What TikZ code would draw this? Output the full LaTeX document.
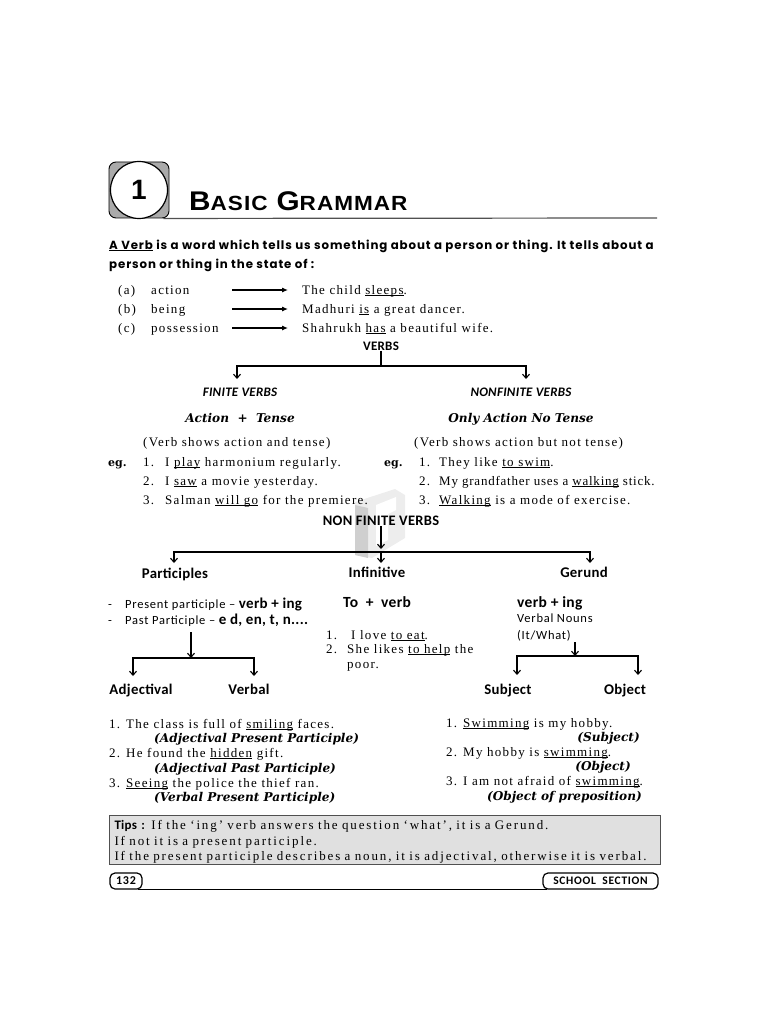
\documentclass[tikz,border=0pt]{standalone}
\usepackage{fontspec}
\usetikzlibrary{arrows.meta, positioning}
\setmainfont{Liberation Serif}
\newfontfamily\bodyfont[LetterSpace=10]{Liberation Serif}
\newfontfamily\tightfont[LetterSpace=6]{Liberation Serif}
\newfontfamily\tipfont[LetterSpace=14.5]{Liberation Serif}
\newfontfamily\emfont{DejaVu Serif}
\newfontfamily\leadfont[LetterSpace=7.6]{Poppins}
\newfontfamily\labelfont[LetterSpace=2]{Carlito}
\newfontfamily\smallfont[LetterSpace=6]{Carlito}
\newfontfamily\headfont{Liberation Sans}
\newfontfamily\titlefont[LetterSpace=5,FakeStretch=1.1]{Liberation Sans}
\definecolor{boxgray}{RGB}{224,224,224}
\definecolor{numgray}{RGB}{170,170,170}
\definecolor{rulegray}{RGB}{80,80,80}
\newcommand\ul[1]{\underline{\smash{#1}}}
\tikzset{
  txt/.style={inner sep=0pt, anchor=base west, font=\bodyfont\fontsize{13}{15}\selectfont},
  emtxt/.style={inner sep=0pt, anchor=base west, font=\emfont\bfseries\itshape\fontsize{12.1}{14}\selectfont},
  leadtxt/.style={inner sep=0pt, anchor=base west, font=\leadfont\bfseries\fontsize{11.8}{14}\selectfont},
  lbl/.style={inner sep=0pt, anchor=base, font=\labelfont\bfseries\fontsize{14.8}{17}\selectfont},
  small/.style={inner sep=0pt, anchor=base west, font=\smallfont\fontsize{12.5}{15}\selectfont},
  smallb/.style={inner sep=0pt, anchor=base west, font=\labelfont\bfseries\fontsize{15.5}{18}\selectfont},
  arrow/.style={-{Latex[length=6pt,width=5pt]}, line width=1.1pt, black},
  barb/.style={-{Straight Barb[length=4pt,width=7pt]}, line width=1.1pt, black},
  tree/.style={line width=1.1pt, black},
  foot/.style={draw=black, line width=1.2pt, rounded corners=5pt, inner sep=0pt, minimum height=16pt},
}
\begin{document}
\begin{tikzpicture}[x=1pt, y=-1pt]
  \useasboundingbox (0,0) rectangle (768,1024);

  % watermark
  \fill[gray!14] (355,502) -- (395,489) -- (405,495) -- (405,538) -- (372,558) -- (355,555) -- cycle;
  \fill[gray!38] (355,505) -- (368,508) -- (368,558) -- (355,555) -- cycle;
  \fill[white] (376,505) -- (396,497) -- (396,510) -- (388,514) -- (388,540) -- (376,546) -- cycle;

  % heading
  \node[draw=black, fill=numgray, line width=0.9pt, rounded corners=7pt, minimum width=60pt, minimum height=56pt] (numbox) at (139,190) {};
  \node[circle, draw=black, fill=white, line width=1.2pt, minimum size=57pt, inner sep=0pt, font=\headfont\bfseries\fontsize{28}{28}\selectfont] (num) at (139,190) {1};
  \node[inner sep=0pt, anchor=base west, font=\titlefont\bfseries] (title) at (189,211)
      {\fontsize{27}{27}\selectfont B\fontsize{20.5}{27}\selectfont ASIC\hspace{9pt}\fontsize{27}{27}\selectfont G\fontsize{20.5}{27}\selectfont RAMMAR};
  \coordinate (ruleend) at (657,218);
  \draw[rulegray, line width=1.2pt] (numbox.south east) ++(-6,0) -- (ruleend);

  % definition
  \node[leadtxt] (l1) at (109,249) {\ul{A Verb} is a word which tells us something about a person or thing. It tells about a};
  \node[leadtxt] (l2) at (109,268) {person or thing in the state of :};

  \node[txt] (a1) at (118,294) {(a)};
  \node[txt] (a2) at (151,294) {action};
  \node[txt] (a3) at (302,294) {The child \ul{sleeps}.};
  \node[txt] (b1) at (118,313) {(b)};
  \node[txt] (b2) at (151,313) {being};
  \node[txt] (b3) at (302,313) {Madhuri \ul{is} a great dancer.};
  \node[txt] (c1) at (118,332) {(c)};
  \node[txt] (c2) at (151,332) {possession};
  \node[txt] (c3) at (302,332) {Shahrukh \ul{has} a beautiful wife.};
  \coordinate (as) at (232,290);
  \coordinate (bs) at (232,309);
  \coordinate (cs) at (232,328);
  \coordinate (ae) at (288,290);
  \coordinate (be) at (288,309);
  \coordinate (ce) at (288,328);
  \draw[arrow] (as) -- (ae);
  \draw[arrow] (bs) -- (be);
  \draw[arrow] (cs) -- (ce);

  % verbs tree
  \node[lbl, font=\labelfont\bfseries\fontsize{13}{15}\selectfont] (verbs) at (381,350) {VERBS};
  \coordinate (vj) at (381,366);
  \coordinate (vl) at (237,379);
  \coordinate (vr) at (526,379);
  \draw[tree] (verbs) ++(0,5) -- (vj);
  \draw[barb] (vj) -| (vl);
  \draw[barb] (vj) -| (vr);

  \node[lbl, font=\labelfont\bfseries\itshape\fontsize{13}{15}\selectfont] (fin) at (240,396) {FINITE VERBS};
  \node[lbl, font=\labelfont\bfseries\itshape\fontsize{13}{15}\selectfont] (nonfin) at (521,396) {NONFINITE VERBS};
  \node[emtxt, anchor=base] (fin2) at (240,422) {Action\ \ +\ \ Tense};
  \node[emtxt, anchor=base] (nonfin2) at (521,422) {Only Action No Tense};

  \node[txt] (fv) at (143,446) {(Verb shows action and tense)};
  \node[emtxt, font=\emfont\bfseries\fontsize{11}{13}\selectfont] (fe) at (108,466) {eg.};
  \node[txt] (f1n) at (143,466) {1.};
  \node[txt] (f1) at (165,466) {I \ul{play} harmonium regularly.};
  \node[txt] (f2n) at (143,485) {2.};
  \node[txt] (f2) at (165,485) {I \ul{saw} a movie yesterday.};
  \node[txt] (f3n) at (143,504) {3.};
  \node[txt] (f3) at (165,504) {Salman \ul{will go} for the premiere.};

  \node[txt] (nv) at (414,446) {(Verb shows action but not tense)};
  \node[emtxt, font=\emfont\bfseries\fontsize{11}{13}\selectfont] (ne) at (384,466) {eg.};
  \node[txt] (n1n) at (419,466) {1.};
  \node[txt] (n1) at (439,466) {They like \ul{to swim}.};
  \node[txt] (n2n) at (419,485) {2.};
  \node[txt, font=\tightfont\fontsize{13}{15}\selectfont] (n2) at (439,485) {My grandfather uses a \ul{walking} stick.};
  \node[txt] (n3n) at (419,504) {3.};
  \node[txt] (n3) at (439,504) {\ul{Walking} is a mode of exercise.};

  % non finite tree
  \node[lbl, font=\labelfont\bfseries\fontsize{14.5}{17}\selectfont] (nonf) at (381,525) {NON FINITE VERBS};
  \coordinate (nj) at (381,552);
  \coordinate (ns) at (381,549);
  \coordinate (nl) at (174,563);
  \coordinate (nm) at (381,563);
  \coordinate (nr) at (590,563);
  \draw[barb] (nonf) ++(0,6) -- (ns);
  \draw[barb] (nj) -| (nl);
  \draw[barb] (nj) -- (nm);
  \draw[barb] (nj) -| (nr);

  \node[lbl] (part) at (175,578) {Participles};
  \node[lbl] (inf) at (377,577) {Infinitive};
  \node[lbl] (ger) at (584,577) {Gerund};

  % participles
  \node[small] (pd1) at (108,608) {-};
  \node[small] (pp1) at (125,608) {Present participle – {\labelfont\bfseries\fontsize{15}{18}\selectfont verb + ing}};
  \node[small] (pd2) at (108,624) {-};
  \node[small] (pp2) at (125,624) {Past Participle – {\labelfont\bfseries\fontsize{15}{18}\selectfont e d, en, t, n....}};
  \coordinate (pj) at (191,658);
  \coordinate (ps) at (191,632);
  \coordinate (pl) at (133,676);
  \coordinate (pr) at (254,676);
  \draw[barb] (ps) -- (pj);
  \draw[barb] (pj) -| (pl);
  \draw[barb] (pj) -| (pr);
  \node[lbl] (adj) at (141,694) {Adjectival};
  \node[lbl] (vrb) at (249,694) {Verbal};

  % infinitive
  \node[smallb] (tov) at (343,607) {To\ \ +\ \ verb};
  \node[txt] (i1n) at (326,639) {1.};
  \node[txt] (i1) at (351,639) {I love \ul{to eat}.};
  \node[txt] (i2n) at (326,653) {2.};
  \node[txt] (i2) at (347,653) {She likes \ul{to help} the};
  \node[txt] (i3) at (347,668) {poor.};

  % gerund
  \node[smallb] (gv) at (517,607) {verb + ing};
  \node[small] (gn) at (517,622) {Verbal Nouns};
  \node[small] (gw) at (517,639) {(It/What)};
  \coordinate (gs) at (575,642);
  \coordinate (gj) at (575,656);
  \coordinate (gl) at (517,675);
  \coordinate (gr) at (638,675);
  \draw[barb] (gs) -- (gj);
  \draw[barb] (gj) -| (gl);
  \draw[barb] (gj) -| (gr);
  \node[lbl] (subj) at (508,694) {Subject};
  \node[lbl] (obj) at (625,694) {Object};

  % examples left
  \node[txt] (e1n) at (109,728) {1.};
  \node[txt] (e1) at (126,728) {The class is full of \ul{smiling} faces.};
  \node[emtxt] (e1b) at (154,742) {(Adjectival Present Participle)};
  \node[txt] (e2n) at (109,757) {2.};
  \node[txt] (e2) at (126,757) {He found the \ul{hidden} gift.};
  \node[emtxt] (e2b) at (154,772) {(Adjectival Past Participle)};
  \node[txt] (e3n) at (109,787) {3.};
  \node[txt] (e3) at (126,787) {\ul{Seeing} the police the thief ran.};
  \node[emtxt] (e3b) at (154,801) {(Verbal Present Participle)};

  % examples right
  \node[txt] (g1n) at (446,727) {1.};
  \node[txt] (g1) at (463,727) {\ul{Swimming} is my hobby.};
  \node[emtxt, anchor=base east] (g1b) at (640,741) {(Subject)};
  \node[txt] (g2n) at (446,756) {2.};
  \node[txt] (g2) at (463,756) {My hobby is \ul{swimming}.};
  \node[emtxt, anchor=base east] (g2b) at (631,770) {(Object)};
  \node[txt] (g3n) at (446,785) {3.};
  \node[txt] (g3) at (463,785) {I am not afraid of \ul{swimming}.};
  \node[emtxt, anchor=base east] (g3b) at (642,800) {(Object of preposition)};

  % tips
  \node[draw=rulegray, fill=boxgray, line width=1pt, text width=541pt, minimum height=49pt,
        inner xsep=5pt, inner ysep=0pt, anchor=north west, align=left,
        font=\tipfont\fontsize{13}{15.6}\selectfont] (tips) at (109,815)
      {\rule{0pt}{13pt}{\labelfont\bfseries Tips :} If the ‘ing’ verb answers the question ‘what’, it is a Gerund.\\
       If not it is a present participle.\\
       If the present participle describes a noun, it is adjectival, otherwise it is verbal.};

  % footer
  \node[foot, minimum width=32pt, font=\smallfont\bfseries\fontsize{12}{14}\selectfont] (page) at (126,881) {132};
  \node[foot, minimum width=115pt, font=\smallfont\bfseries\fontsize{11.5}{13}\selectfont] (sect) at (600.5,881) {SCHOOL\ \ SECTION};
  \draw[black, line width=1.2pt] (page.south east) ++(-5,0) -- ([xshift=5pt]sect.south west);
\end{tikzpicture}
\end{document}
